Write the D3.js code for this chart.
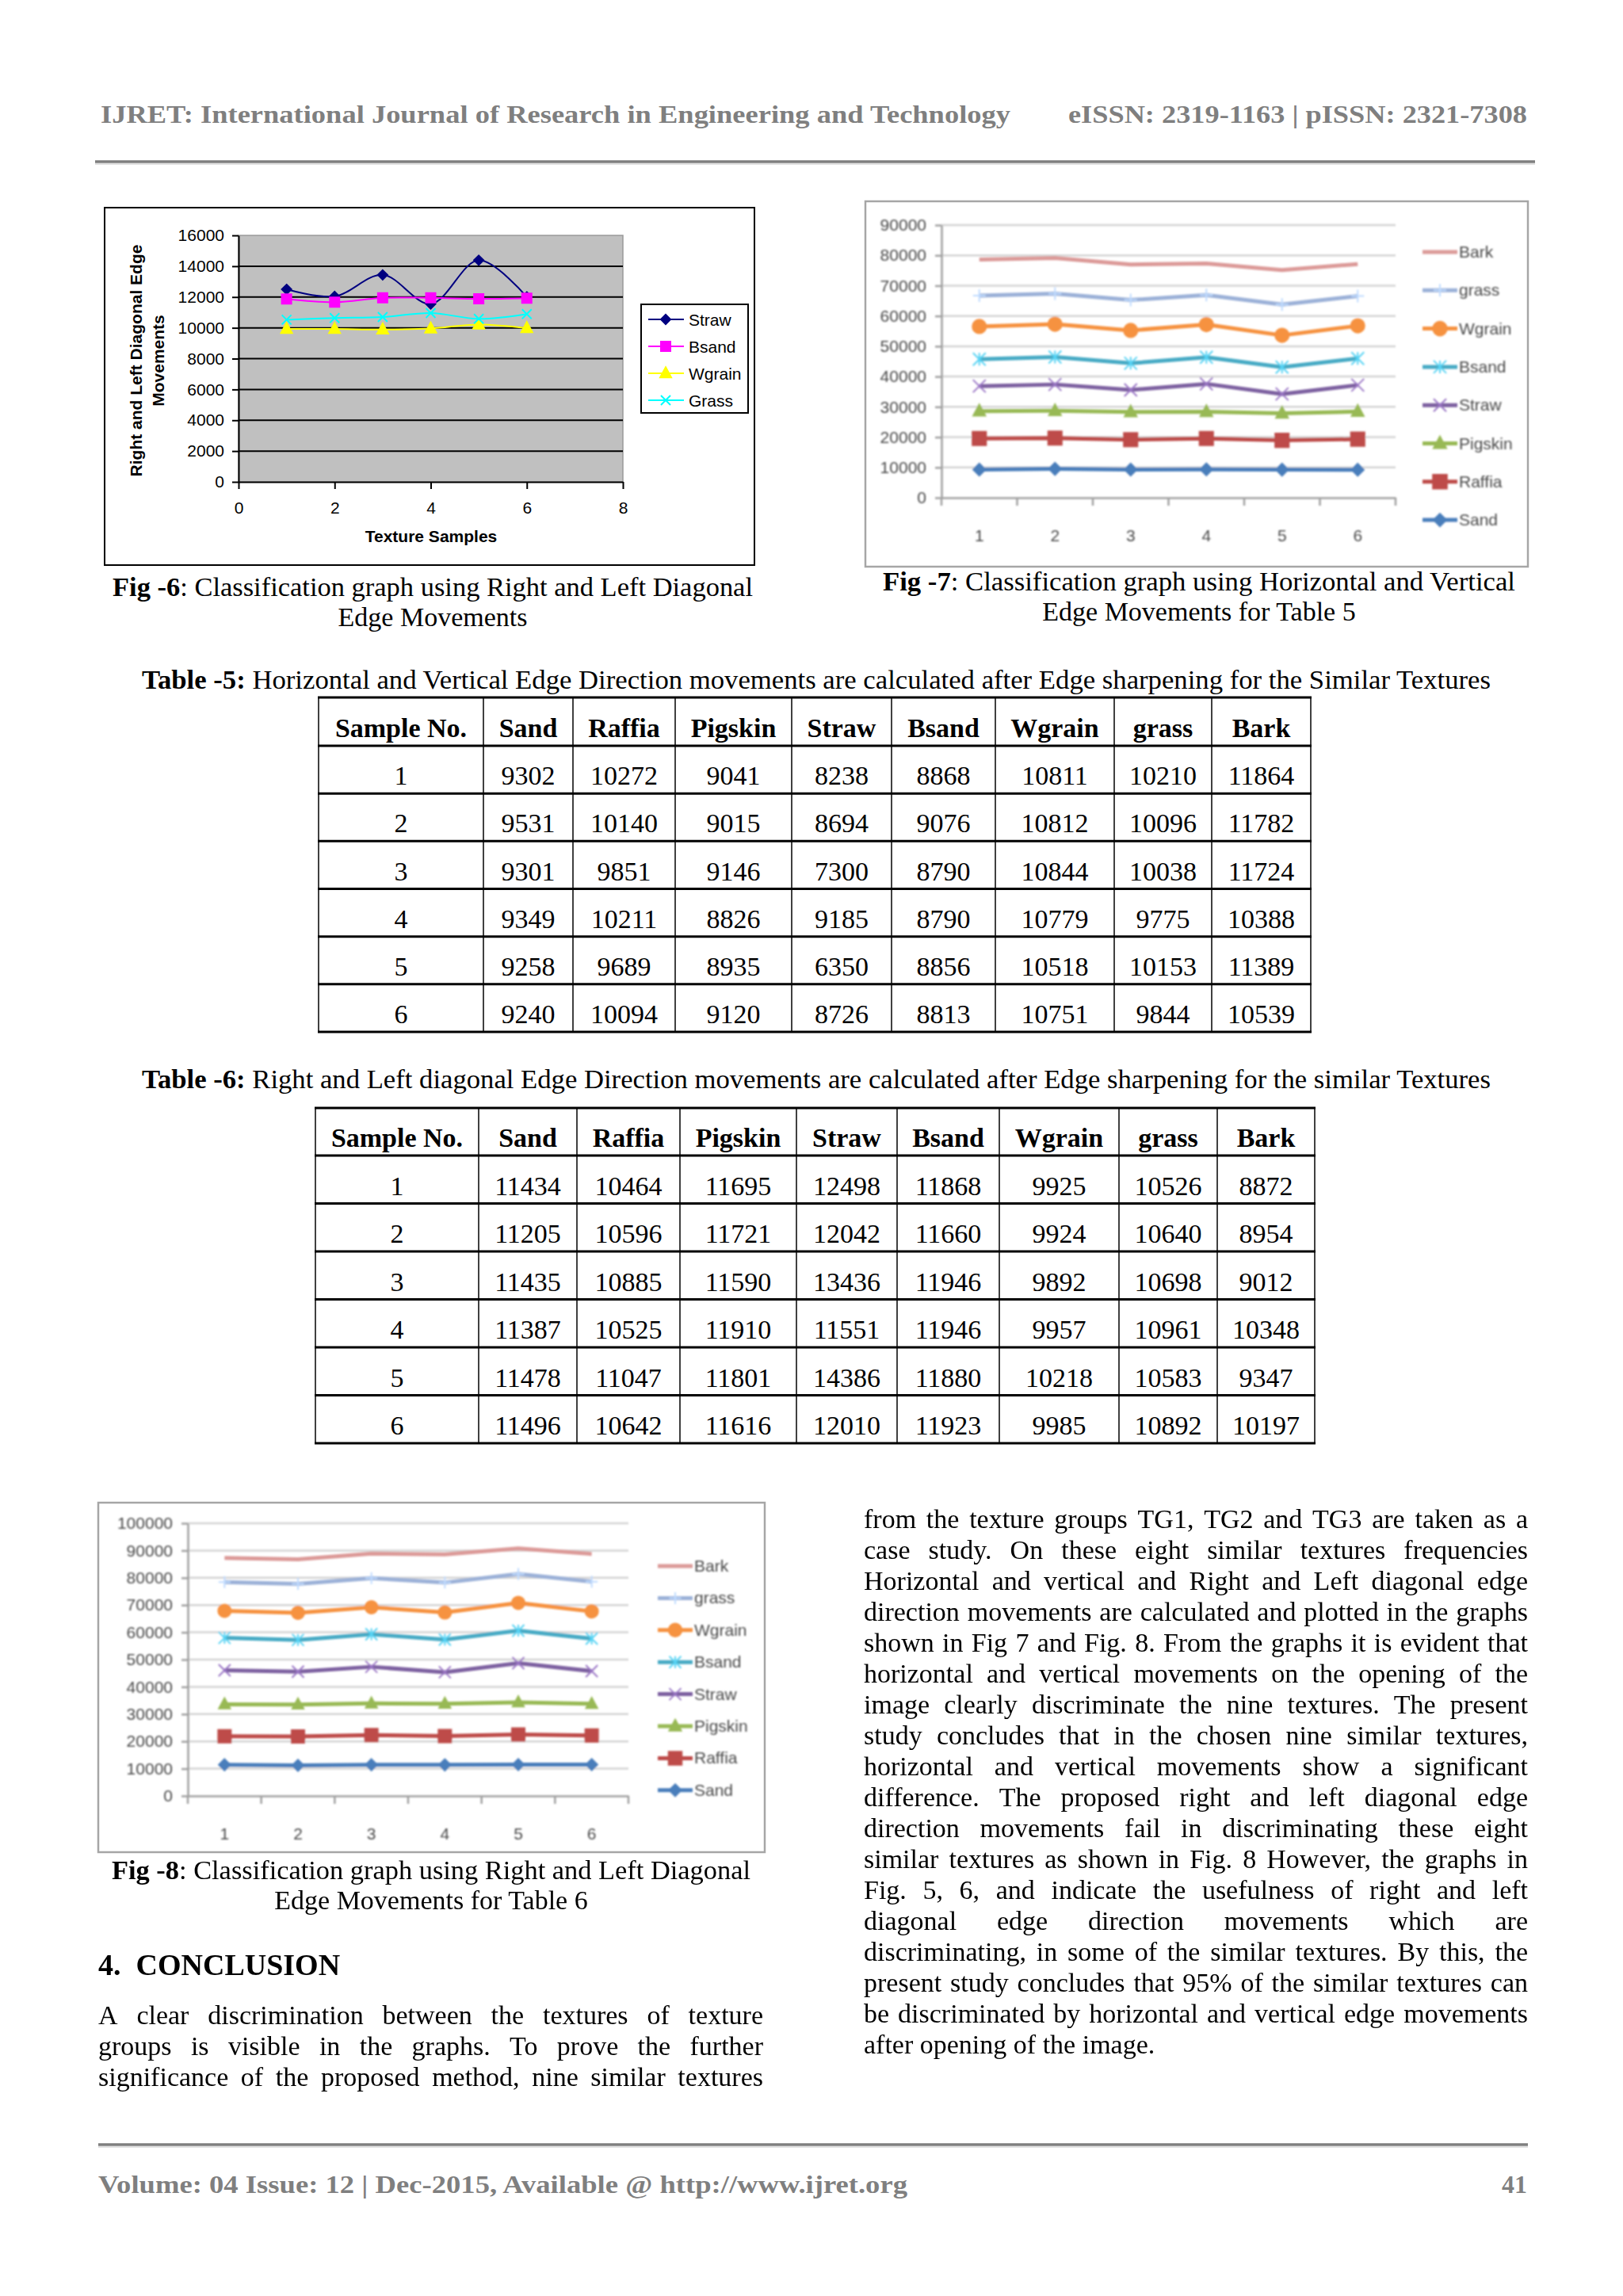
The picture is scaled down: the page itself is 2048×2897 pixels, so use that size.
<!DOCTYPE html>
<html lang="en">
<head>
<meta charset="UTF-8">
<title>IJRET page 41 - edge movement graphs</title>
<script src="https://d3js.org/d3.v7.min.js"></script>
<style>
  body { margin: 0; background: #fff; }
  text { font-family: "Liberation Serif", "Times New Roman", serif; fill: #000; }
  .sans { font-family: "Liberation Sans", Arial, sans-serif; }
  .body { font-size: 34px; }
  .hdr { font-size: 32px; font-weight: bold; fill: #7f7f7f; }
  .cell { font-size: 34px; }
  .xl text { font-family: "Liberation Sans", Arial, sans-serif; fill: #4a4a4a; font-size: 21px; }
</style>
</head>
<body>
<svg width="2048" height="2897"></svg>
<script>
  // ---- data ----
  const samples = [1, 2, 3, 4, 5, 6];
  const textures = ["Sand", "Raffia", "Pigskin", "Straw", "Bsand", "Wgrain", "grass", "Bark"];
  const tableHeaders = ["Sample No.", "Sand", "Raffia", "Pigskin", "Straw", "Bsand", "Wgrain", "grass", "Bark"];

  // Table 5: horizontal and vertical edge movements (one row per sample)
  const table5 = [
    [9302, 10272, 9041, 8238, 8868, 10811, 10210, 11864],
    [9531, 10140, 9015, 8694, 9076, 10812, 10096, 11782],
    [9301, 9851, 9146, 7300, 8790, 10844, 10038, 11724],
    [9349, 10211, 8826, 9185, 8790, 10779, 9775, 10388],
    [9258, 9689, 8935, 6350, 8856, 10518, 10153, 11389],
    [9240, 10094, 9120, 8726, 8813, 10751, 9844, 10539]
  ];
  // Table 6: right and left diagonal edge movements
  const table6 = [
    [11434, 10464, 11695, 12498, 11868, 9925, 10526, 8872],
    [11205, 10596, 11721, 12042, 11660, 9924, 10640, 8954],
    [11435, 10885, 11590, 13436, 11946, 9892, 10698, 9012],
    [11387, 10525, 11910, 11551, 11946, 9957, 10961, 10348],
    [11478, 11047, 11801, 14386, 11880, 10218, 10583, 9347],
    [11496, 10642, 11616, 12010, 11923, 9985, 10892, 10197]
  ];
  // Fig 6 series (subset of table 6)
  const fig6Names = ["Straw", "Bsand", "Wgrain", "Grass"];
  const fig6Cols = ["Straw", "Bsand", "Wgrain", "grass"];
  const fig6Colors = ["#000080", "#ff00ff", "#ffff00", "#00ffff"];
  const fig6Markers = ["diamond", "square", "triangle", "x"];
  const fig6YTicks = [0, 2000, 4000, 6000, 8000, 10000, 12000, 14000, 16000];
  const fig6XTicks = [0, 2, 4, 6, 8];

  // Excel-style colours for figs 7 and 8
  const stackColors = ["#4a7ebb", "#be4b48", "#98b954", "#7d60a0", "#46aac5", "#f69240", "#9bb1d8", "#dc9a98"];
  const stackMarkers = ["diamond", "square", "triangle", "x", "asterisk", "circle", "plus", "none"];

  const rightText = [
    "from the texture groups TG1, TG2 and TG3 are taken as a",
    "case study. On these eight similar textures frequencies",
    "Horizontal and vertical and Right and Left diagonal edge",
    "direction movements are calculated and plotted in the graphs",
    "shown in Fig 7 and Fig. 8. From the graphs it is evident that",
    "horizontal and vertical movements on the opening of the",
    "image clearly discriminate the nine textures. The present",
    "study concludes that in the chosen nine similar textures,",
    "horizontal and vertical movements show a significant",
    "difference. The proposed right and left diagonal edge",
    "direction movements fail in discriminating these eight",
    "similar textures as shown in Fig. 8 However, the graphs in",
    "Fig. 5, 6, and indicate the usefulness of right and left",
    "diagonal edge direction movements which are",
    "discriminating, in some of the similar textures. By this, the",
    "present study concludes that 95% of the similar textures can",
    "be discriminated by horizontal and vertical edge movements",
    "after opening of the image."
  ];
  const leftText = [
    "A clear discrimination between the textures of texture",
    "groups is visible in the graphs. To prove the further",
    "significance of the proposed method, nine similar textures"
  ];

  const svg = d3.select("svg");
  const plain = d3.format("d");

  // blur filter to mimic the scanned bitmap figures
  svg.append("defs").append("filter").attr("id", "soft")
    .append("feGaussianBlur").attr("stdDeviation", 0.9);

  // ---- helpers ----
  function markerPath(type, r) {
    switch (type) {
      case "diamond": return `M0,${-r}L${r},0L0,${r}L${-r},0Z`;
      case "square": return `M${-r},${-r}h${2 * r}v${2 * r}h${-2 * r}Z`;
      case "triangle": return `M0,${-r * 1.1}L${r},${r * 0.75}L${-r},${r * 0.75}Z`;
      case "circle": return `M${r},0A${r},${r} 0 1,1 ${-r},0A${r},${r} 0 1,1 ${r},0Z`;
      case "x": return `M${-r},${-r}L${r},${r}M${r},${-r}L${-r},${r}`;
      case "plus": return `M0,${-r}V${r}M${-r},0H${r}`;
      case "asterisk": return `M${-r},${-r}L${r},${r}M${r},${-r}L${-r},${r}M0,${-r}V${r}`;
      default: return "";
    }
  }
  const strokeOnly = t => t === "x" || t === "plus" || t === "asterisk";

  const measurer = svg.append("text").attr("class", "body").attr("x", 10).attr("y", 40)
    .attr("visibility", "hidden");
  function wordWidth(w) { measurer.text(w); return measurer.node().getComputedTextLength(); }

  function paragraph(lines, x, y0, width, lh, justifyLast) {
    const g = svg.append("g").attr("class", "body");
    lines.forEach((ln, i) => {
      const words = ln.split(/\s+/);
      const widths = words.map(wordWidth);
      const last = i === lines.length - 1 && !justifyLast;
      const gap = last || words.length < 2 ? wordWidth("a b") - wordWidth("ab")
                                            : (width - d3.sum(widths)) / (words.length - 1);
      const t = g.append("text").attr("y", y0 + i * lh);
      let cx = x;
      words.forEach((w, j) => { t.append("tspan").attr("x", cx).text(w); cx += widths[j] + gap; });
    });
  }

  function caption(cx, y, bold, rest, width) {
    const t = svg.append("text").attr("class", "body").attr("x", cx).attr("y", y)
      .attr("text-anchor", "middle");
    if (bold) t.append("tspan").attr("font-weight", "bold").text(bold);
    t.append("tspan").text(rest);
    if (width) t.attr("textLength", width).attr("lengthAdjust", "spacingAndGlyphs");
    return t;
  }

  // ---- page header / footer ----
  svg.append("text").attr("class", "hdr").attr("x", 127).attr("y", 155)
    .attr("textLength", 1148).attr("lengthAdjust", "spacingAndGlyphs")
    .text("IJRET: International Journal of Research in Engineering and Technology");
  svg.append("text").attr("class", "hdr").attr("x", 1348).attr("y", 155)
    .attr("textLength", 579).attr("lengthAdjust", "spacingAndGlyphs")
    .text("eISSN: 2319-1163 | pISSN: 2321-7308");
  svg.append("line").attr("x1", 120).attr("x2", 1937).attr("y1", 204).attr("y2", 204)
    .attr("stroke", "#7f7f7f").attr("stroke-width", 3.5);
  svg.append("line").attr("x1", 120).attr("x2", 1937).attr("y1", 207).attr("y2", 207)
    .attr("stroke", "#d9d9d9").attr("stroke-width", 1.5);

  svg.append("line").attr("x1", 124).attr("x2", 1928).attr("y1", 2706).attr("y2", 2706)
    .attr("stroke", "#7f7f7f").attr("stroke-width", 3.5);
  svg.append("line").attr("x1", 124).attr("x2", 1928).attr("y1", 2709).attr("y2", 2709)
    .attr("stroke", "#d9d9d9").attr("stroke-width", 1.5);
  svg.append("text").attr("class", "hdr").attr("x", 124).attr("y", 2767)
    .attr("textLength", 1021).attr("lengthAdjust", "spacingAndGlyphs")
    .text("Volume: 04 Issue: 12 | Dec-2015, Available @ http://www.ijret.org");
  svg.append("text").attr("class", "hdr").attr("x", 1927).attr("y", 2767)
    .attr("text-anchor", "end").text("41");

  // ---- Fig 6: smoothed lines, Excel 2003 style ----
  (function fig6() {
    const g = svg.append("g");
    g.append("rect").attr("x", 132).attr("y", 262).attr("width", 820).attr("height", 451)
      .attr("fill", "#fff").attr("stroke", "#000").attr("stroke-width", 2);

    const x = d3.scaleLinear().domain([0, 8]).range([301, 786]);
    const y = d3.scaleLinear().domain([0, 16000]).range([608, 297]);

    g.append("rect").attr("x", x(0)).attr("y", y(16000))
      .attr("width", x(8) - x(0)).attr("height", y(0) - y(16000))
      .attr("fill", "#c0c0c0").attr("stroke", "#9a9a9a").attr("stroke-width", 1.5);

    g.append("g").selectAll("line").data(fig6YTicks.filter(v => v > 0 && v < 16000)).join("line")
      .attr("x1", x(0)).attr("x2", x(8)).attr("y1", d => y(d)).attr("y2", d => y(d))
      .attr("stroke", "#000").attr("stroke-width", 2);

    const yAxis = g.append("g").attr("transform", `translate(${x(0)},0)`)
      .call(d3.axisLeft(y).tickValues(fig6YTicks).tickFormat(plain)
        .tickSize(8).tickPadding(10).tickSizeOuter(0));
    const xAxis = g.append("g").attr("transform", `translate(0,${y(0)})`)
      .call(d3.axisBottom(x).tickValues(fig6XTicks).tickFormat(plain)
        .tickSize(9).tickPadding(16).tickSizeOuter(0));
    [yAxis, xAxis].forEach(a => {
      a.selectAll("path, line").attr("stroke", "#000").attr("stroke-width", 2);
      a.selectAll("text").attr("class", "sans").attr("font-size", 21).attr("fill", "#000");
    });

    g.append("text").attr("class", "sans").attr("x", 544).attr("y", 684)
      .attr("text-anchor", "middle").attr("font-size", 21).attr("font-weight", "bold")
      .text("Texture Samples");
    const yt = g.append("text").attr("class", "sans").attr("font-size", 21).attr("font-weight", "bold")
      .attr("text-anchor", "middle").attr("transform", "translate(179,455) rotate(-90)");
    yt.append("tspan").attr("x", 0).attr("y", 0).text("Right and Left Diagonal Edge");
    yt.append("tspan").attr("x", 0).attr("y", 28).text("Movements");

    const line = d3.line().x((d, i) => x(samples[i])).y(d => y(d)).curve(d3.curveCatmullRom);
    fig6Cols.forEach((col, k) => {
      const ci = textures.indexOf(col);
      const vals = table6.map(r => r[ci]);
      g.append("path").attr("d", line(vals)).attr("fill", "none")
        .attr("stroke", fig6Colors[k]).attr("stroke-width", 2);
      g.append("g").selectAll("path").data(vals).join("path")
        .attr("transform", (d, i) => `translate(${x(samples[i])},${y(d)})`)
        .attr("d", markerPath(fig6Markers[k], k === 2 ? 7 : 6))
        .attr("fill", strokeOnly(fig6Markers[k]) ? "none" : fig6Colors[k])
        .attr("stroke", fig6Colors[k]).attr("stroke-width", 2);
    });

    // legend
    const lg = g.append("g");
    lg.append("rect").attr("x", 809).attr("y", 384).attr("width", 135).attr("height", 137)
      .attr("fill", "#fff").attr("stroke", "#000").attr("stroke-width", 2);
    const ly = d3.scalePoint().domain(fig6Names).range([403, 505]);
    fig6Names.forEach((n, k) => {
      const yy = ly(n);
      lg.append("line").attr("x1", 818).attr("x2", 863).attr("y1", yy).attr("y2", yy)
        .attr("stroke", fig6Colors[k]).attr("stroke-width", 2);
      lg.append("path").attr("transform", `translate(840,${yy})`)
        .attr("d", markerPath(fig6Markers[k], k === 2 ? 7 : 6))
        .attr("fill", strokeOnly(fig6Markers[k]) ? "none" : fig6Colors[k])
        .attr("stroke", fig6Colors[k]).attr("stroke-width", 2);
      lg.append("text").attr("class", "sans").attr("x", 869).attr("y", yy + 8)
        .attr("font-size", 21).text(n);
    });
  })();

  caption(546, 752, "Fig -6", ": Classification graph using Right and Left Diagonal", 808);
  caption(546, 790, "", "Edge Movements");

  // ---- Figs 7 and 8: stacked line charts (Excel 2007 style) ----
  function stackedChart(rows, box, plot, yMax, legendX, legendY, legendStep, mr) {
    const g = svg.append("g");
    g.append("rect").attr("x", box[0]).attr("y", box[1]).attr("width", box[2]).attr("height", box[3])
      .attr("fill", "#fff").attr("stroke", "#a6a6a6").attr("stroke-width", 2.5);
    const c = g.append("g").attr("class", "xl").attr("filter", "url(#soft)");

    const objs = rows.map((r, i) => {
      const o = { sample: samples[i] };
      textures.forEach((t, k) => { o[t] = r[k]; });
      return o;
    });
    const series = d3.stack().keys(textures)(objs);

    const x = d3.scaleBand().domain(samples).range([plot[0], plot[1]]);
    const y = d3.scaleLinear().domain([0, yMax]).range([plot[3], plot[2]]);
    const ticks = d3.range(0, yMax + 1, 10000);

    c.append("g").selectAll("line").data(ticks.slice(1)).join("line")
      .attr("x1", plot[0]).attr("x2", plot[1]).attr("y1", d => y(d)).attr("y2", d => y(d))
      .attr("stroke", "#d4d4d4").attr("stroke-width", 2.5);

    const yAxis = c.append("g").attr("transform", `translate(${plot[0]},0)`)
      .call(d3.axisLeft(y).tickValues(ticks).tickFormat(plain)
        .tickSize(8).tickPadding(11).tickSizeOuter(0));
    const xAxis = c.append("g").attr("transform", `translate(0,${plot[3]})`)
      .call(d3.axisBottom(x).tickSize(0).tickPadding(40));
    [yAxis, xAxis].forEach(a => {
      a.selectAll("path, line").attr("stroke", "#a0a0a0").attr("stroke-width", 2.5);
      a.selectAll("text").attr("fill", "#4a4a4a").attr("font-size", 21);
    });
    // category boundary ticks
    c.append("g").selectAll("line").data(samples).join("line")
      .attr("x1", d => x(d) + x.bandwidth()).attr("x2", d => x(d) + x.bandwidth())
      .attr("y1", plot[3]).attr("y2", plot[3] + 10)
      .attr("stroke", "#a0a0a0").attr("stroke-width", 2.5);
    c.append("line").attr("x1", plot[0]).attr("x2", plot[0]).attr("y1", plot[3]).attr("y2", plot[3] + 10)
      .attr("stroke", "#a0a0a0").attr("stroke-width", 2.5);

    const cx = d => x(d.data.sample) + x.bandwidth() / 2;
    const line = d3.line().x(cx).y(d => y(d[1]));
    series.forEach((s, k) => {
      const col = stackColors[k];
      c.append("path").attr("d", line(s)).attr("fill", "none")
        .attr("stroke", col).attr("stroke-width", 5).attr("stroke-linejoin", "round");
      const m = stackMarkers[k];
      if (m !== "none") {
        c.append("g").selectAll("path").data(s).join("path")
          .attr("transform", d => `translate(${cx(d)},${y(d[1])})`)
          .attr("d", markerPath(m, m === "square" || m === "circle" ? mr * 1.1 : mr))
          .attr("fill", strokeOnly(m) ? "none" : col)
          .attr("stroke", strokeOnly(m) ? d3.color(col).brighter(0.6) : col)
          .attr("stroke-width", strokeOnly(m) ? 2 : 1.5);
      }
    });

    // legend, top entry = last series
    const order = textures.slice().reverse();
    const ly = d3.scalePoint().domain(order).range([legendY, legendY + legendStep * 7]);
    order.forEach(t => {
      const k = textures.indexOf(t);
      const col = stackColors[k], m = stackMarkers[k], yy = ly(t);
      c.append("line").attr("x1", legendX - 46).attr("x2", legendX - 2).attr("y1", yy).attr("y2", yy)
        .attr("stroke", col).attr("stroke-width", 5);
      if (m !== "none") {
        c.append("path").attr("transform", `translate(${legendX - 24},${yy})`)
          .attr("d", markerPath(m, m === "square" || m === "circle" ? mr * 1.1 : mr))
          .attr("fill", strokeOnly(m) ? "none" : col)
          .attr("stroke", strokeOnly(m) ? d3.color(col).brighter(0.6) : col).attr("stroke-width", 2);
      }
      c.append("text").attr("x", legendX).attr("y", yy + 7).attr("font-size", 21)
        .attr("fill", "#4a4a4a").text(t);
    });
  }

  stackedChart(table5, [1092, 254, 836, 461], [1188, 1761, 284, 628], 90000, 1841, 318, 48.3, 8);
  caption(1513, 745, "Fig -7", ": Classification graph using Horizontal and Vertical", 798);
  caption(1513, 783, "", "Edge Movements for Table 5");

  // ---- Tables ----
  function drawTable(rows, edges, top, headBottom, bottom, capY, capBold, capRest) {
    const t = svg.append("text").attr("class", "body").attr("x", 179).attr("y", capY)
      .attr("textLength", 1702).attr("lengthAdjust", "spacingAndGlyphs");
    t.append("tspan").attr("font-weight", "bold").text(capBold);
    t.append("tspan").text(capRest);

    const g = svg.append("g");
    const colX = d3.scaleOrdinal().domain(d3.range(edges.length)).range(edges);
    const rowY = d3.scaleBand().domain(samples).range([headBottom, bottom]);
    const left = colX(0), right = colX(edges.length - 1);

    // horizontal rules
    const hy = [top, headBottom].concat(samples.map(s => rowY(s) + rowY.bandwidth()));
    g.selectAll("line.h").data(hy).join("line")
      .attr("x1", left - 1).attr("x2", right + 1).attr("y1", d => d).attr("y2", d => d)
      .attr("stroke", "#000").attr("stroke-width", 3);
    g.selectAll("line.v").data(edges).join("line")
      .attr("x1", d => d).attr("x2", d => d).attr("y1", top).attr("y2", bottom)
      .attr("stroke", "#000").attr("stroke-width", 1.5);

    const mid = i => (colX(i) + colX(i + 1)) / 2;
    tableHeaders.forEach((h, i) => {
      g.append("text").attr("class", "cell").attr("font-weight", "bold")
        .attr("x", mid(i)).attr("y", headBottom - 11).attr("text-anchor", "middle").text(h);
    });
    rows.forEach((r, ri) => {
      const yb = rowY(samples[ri]) + rowY.bandwidth() - 11;
      g.append("text").attr("class", "cell").attr("x", mid(0)).attr("y", yb)
        .attr("text-anchor", "middle").text(samples[ri]);
      r.forEach((v, ci) => {
        g.append("text").attr("class", "cell").attr("x", mid(ci + 1)).attr("y", yb)
          .attr("text-anchor", "middle").text(v);
      });
    });
  }

  drawTable(table5, [402, 610, 723, 852, 999, 1125, 1256, 1406, 1529, 1654], 880, 941, 1302, 869,
    "Table -5:", " Horizontal and Vertical Edge Direction movements are calculated after Edge sharpening for the Similar Textures");
  drawTable(table6, [398, 604, 728, 858, 1005, 1132, 1261, 1412, 1536, 1659], 1398, 1458, 1821, 1373,
    "Table -6:", " Right and Left diagonal Edge Direction movements are calculated after Edge sharpening for the similar Textures");

  // ---- Fig 8 ----
  stackedChart(table6, [124, 1896, 841, 441], [237, 793, 1922, 2266], 100000, 876, 1976, 40.4, 7.5);
  caption(544, 2371, "Fig -8", ": Classification graph using Right and Left Diagonal", 806);
  caption(544, 2409, "", "Edge Movements for Table 6");

  // ---- text ----
  svg.append("text").attr("x", 124).attr("y", 2492).attr("font-size", 38).attr("font-weight", "bold")
    .text("4.\u00a0\u00a0CONCLUSION");
  paragraph(leftText, 124, 2554, 839, 39, true);
  paragraph(rightText, 1090, 1928, 838, 39, false);
  measurer.remove();
</script>
</body>
</html>
